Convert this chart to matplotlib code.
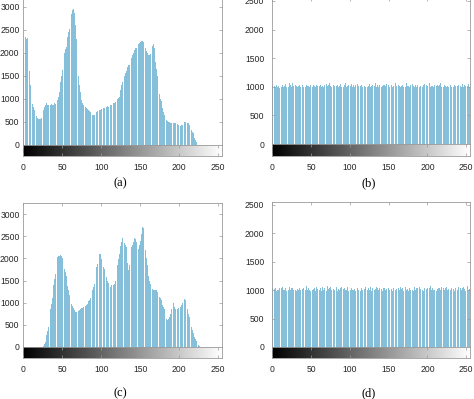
import numpy as np
import matplotlib
matplotlib.use('Agg')
import matplotlib.pyplot as plt

# histogram counts per gray level (0..255)
hist_a = [
    1950, 2400, 2380, 2350, 2300, 2330, 2150, 1900, 1600, 1300, 1100, 1000, 900, 820, 760, 700,
    650, 620, 590, 570, 560, 570, 560, 590, 620, 680, 760, 830, 870, 900, 920, 880,
    860, 880, 900, 870, 890, 860, 900, 880, 910, 900, 930, 960, 980, 1050, 1150, 1270,
    1380, 1500, 1620, 1750, 1880, 2000, 2080, 2140, 2250, 2350, 2450, 2520, 2600, 2700, 2850, 2940,
    2950, 2900, 2870, 2600, 2300, 2000, 1750, 1500, 1300, 1150, 1050, 980, 920, 880, 860, 840,
    835, 810, 790, 770, 750, 730, 710, 690, 670, 660, 650, 660, 680, 700, 720, 740,
    750, 760, 760, 770, 780, 790, 800, 810, 810, 820, 830, 830, 840, 820, 850, 840,
    860, 880, 900, 890, 910, 920, 940, 960, 980, 1000, 1020, 1050, 1100, 1200, 1300, 1360,
    1410, 1450, 1500, 1560, 1610, 1650, 1700, 1730, 1740, 1780, 1830, 1900, 1950, 2000, 2040, 2070,
    2100, 2110, 2150, 2180, 2200, 2220, 2230, 2250, 2260, 2250, 2240, 2270, 2200, 2100, 2050, 2000,
    1980, 1960, 1950, 1970, 1950, 2050, 2150, 2200, 2100, 1950, 1800, 1650, 1500, 1350, 1200, 1100,
    1000, 950, 880, 800, 720, 650, 600, 570, 545, 520, 510, 500, 490, 480, 480, 475,
    470, 470, 480, 470, 465, 460, 450, 440, 435, 430, 420, 430, 440, 450, 470, 490,
    500, 510, 490, 480, 470, 430, 400, 380, 330, 280, 250, 200, 160, 110, 60, 30,
    0, 0, 0, 0, 0, 0, 0, 0, 0, 0, 0, 0, 0, 0, 0, 0,
    0, 0, 0, 0, 0, 0, 0, 0, 0, 0, 0, 0, 0, 0, 0, 0,
]

hist_b = [
    1040, 1020, 1060, 1010, 990, 1030, 1050, 1000, 1020, 980, 1010, 1040, 1000, 1030, 990, 1020,
    1010, 1050, 1000, 1040, 1020, 990, 1060, 1030, 1010, 1000, 1070, 1020, 1040, 990, 1030, 1010,
    1000, 1080, 1020, 1030, 990, 1050, 1010, 1040, 1000, 1020, 1060, 990, 1030, 1010, 1040, 1020,
    1000, 1030, 1050, 1010, 990, 1040, 1020, 1060, 1000, 1030, 1010, 1050, 990, 1020, 1040, 1000,
    1030, 1010, 1000, 1040, 1020, 990, 1050, 1010, 1030, 1000, 1060, 1020, 990, 1040, 1010, 1030,
    1020, 1000, 1070, 1010, 1040, 990, 1030, 1020, 1050, 1000, 1010, 1040, 990, 1030, 1060, 1010,
    1000, 1020, 1040, 990, 1030, 1010, 1050, 1000, 1020, 1040, 990, 1030, 1010, 1000, 1050, 1020,
    1030, 990, 1010, 1040, 1000, 1020, 1060, 1010, 990, 1030, 1040, 1000, 1020, 1050, 1010, 990,
    1020, 1040, 1000, 1030, 1010, 1060, 990, 1020, 1040, 1000, 1030, 1050, 1010, 990, 1020, 1040,
    1000, 1030, 1010, 1050, 1020, 990, 1040, 1000, 1060, 1010, 1030, 990, 1020, 1040, 1000, 1070,
    1010, 1030, 1000, 1040, 1020, 990, 1050, 1010, 1030, 1000, 1040, 1020, 990, 1060, 1010, 1030,
    1020, 1000, 1040, 990, 1030, 1050, 1010, 1000, 1020, 1040, 990, 1030, 1060, 1010, 1000, 1020,
    1040, 1010, 990, 1030, 1050, 1000, 1020, 1040, 1010, 990, 1030, 1070, 1000, 1020, 1040, 1010,
    1000, 1030, 1050, 990, 1020, 1040, 1010, 1000, 1030, 1060, 990, 1020, 1040, 1000, 1030, 1010,
    1050, 1000, 1020, 990, 1040, 1010, 1030, 1000, 1060, 1020, 990, 1040, 1010, 1030, 1000, 1020,
    1040, 990, 1030, 1010, 1000, 1050, 1020, 990, 1040, 1010, 1030, 1000, 1020, 1050, 990, 1010,
]

hist_c = [
    0, 0, 0, 0, 0, 0, 0, 0, 0, 0, 0, 0, 0, 0, 0, 0,
    0, 0, 0, 0, 0, 0, 0, 0, 0, 0, 20, 60, 120, 180, 260, 350,
    450, 580, 720, 860, 980, 1100, 1250, 1400, 1530, 1650, 1800, 1950, 2030, 2050, 2060, 2040,
    2070, 2060, 2000, 1950, 1850, 1760, 1700, 1600, 1500, 1380, 1280, 1180, 1080, 1000, 960, 920,
    880, 860, 830, 800, 780, 800, 820, 810, 840, 860, 870, 880, 890, 900, 920, 910,
    930, 950, 970, 1000, 1030, 1060, 1100, 1150, 1200, 1280, 1350, 1430, 1550, 1680, 1800, 1880,
    1950, 2000, 2100, 2110, 1980, 1900, 1850, 1810, 1750, 1700, 1650, 1580, 1500, 1450, 1400, 1380,
    1350, 1390, 1370, 1380, 1390, 1420, 1500, 1600, 1730, 1850, 1980, 2100, 2180, 2280, 2380, 2450,
    2490, 2420, 2350, 2300, 2260, 2100, 1900, 1730, 1850, 2000, 2150, 2250, 2300, 2380, 2420, 2450,
    2430, 2380, 2300, 2250, 2220, 2300, 2400, 2480, 2550, 2710, 2680, 2600, 2400, 2180, 2000, 1850,
    1730, 1600, 1500, 1420, 1380, 1360, 1300, 1290, 1280, 1270, 1290, 1280, 1250, 1220, 1180, 1130,
    1100, 1050, 1000, 950, 905, 850, 780, 700, 640, 620, 640, 660, 680, 750, 850, 950,
    1055, 1000, 900, 850, 830, 830, 850, 870, 880, 905, 900, 950, 1000, 1055, 1080, 1090,
    1050, 1000, 920, 850, 755, 680, 600, 520, 450, 380, 320, 260, 225, 180, 140, 100,
    75, 40, 20, 0, 0, 0, 0, 0, 0, 0, 0, 0, 0, 0, 0, 0,
    0, 0, 0, 0, 0, 0, 0, 0, 0, 0, 0, 0, 0, 0, 0, 0,
]

hist_d = [
    1030, 1050, 1000, 1020, 1040, 990, 1030, 1010, 1000, 1040, 1020, 990, 1030, 1050, 1000, 1020,
    1010, 1040, 990, 1030, 1020, 1000, 1050, 1010, 990, 1030, 1040, 1000, 1020, 1060, 1010, 990,
    1020, 1040, 1000, 1030, 1010, 1050, 990, 1020, 1040, 1000, 1030, 1010, 1070, 1000, 1020, 1040,
    1010, 990, 1030, 1050, 1000, 1020, 1040, 1010, 990, 1060, 1020, 1000, 1040, 1010, 1030, 990,
    1020, 1050, 1000, 1030, 1010, 1040, 990, 1080, 1020, 1000, 1030, 1050, 1010, 990, 1040, 1020,
    1000, 1030, 1010, 1050, 990, 1020, 1040, 1000, 1030, 1060, 1010, 990, 1020, 1040, 1000, 1030,
    1010, 1050, 990, 1020, 1040, 1000, 1030, 1010, 1070, 1000, 1020, 990, 1040, 1010, 1030, 1000,
    1050, 1020, 990, 1040, 1010, 1030, 1000, 1020, 1060, 990, 1030, 1010, 1040, 1000, 1020, 1050,
    990, 1030, 1010, 1040, 1000, 1020, 1050, 990, 1030, 1010, 1040, 1000, 1060, 1020, 990, 1030,
    1010, 1040, 1000, 1020, 1050, 990, 1030, 1010, 1000, 1040, 1020, 990, 1030, 1050, 1010, 1000,
    1020, 1040, 990, 1030, 1010, 1060, 1000, 1020, 1040, 990, 1030, 1010, 1050, 1000, 1020, 1040,
    990, 1030, 1000, 1020, 1040, 1010, 990, 1050, 1020, 1000, 1040, 1030, 990, 1010, 1060, 1020,
    1000, 1040, 1010, 990, 1030, 1050, 1000, 1020, 1040, 1010, 990, 1030, 1070, 1000, 1020, 1040,
    1010, 1000, 1030, 1050, 990, 1020, 1040, 1000, 1030, 1010, 1060, 990, 1020, 1040, 1000, 1030,
    1010, 1050, 1000, 1020, 990, 1040, 1010, 1030, 1080, 1000, 1020, 990, 1040, 1010, 1030, 1000,
    1050, 1020, 990, 1040, 1010, 1030, 1000, 1060, 1020, 990, 1040, 1010, 1070, 1000, 1020, 1040,
]

labels = ['(a)', '(b)', '(c)', '(d)']
x_ticks = [0, 50, 100, 150, 200, 250]
ymax_ac = 3250
ymax_bd = 2550
yticks_ac = [0, 500, 1000, 1500, 2000, 2500, 3000]
yticks_bd = [0, 500, 1000, 1500, 2000, 2500]

W, H = 474, 399
BAR_COLOR = '#86bfd9'
FRAME = '#9a9a9a'
TXT = '#262626'
TICK_FONT = ['Liberation Sans', 'DejaVu Sans']

fig = plt.figure(figsize=(W / 100, H / 100), dpi=100)
fig.patch.set_facecolor('white')


def px_axes(left, top, width, height):
    # axes from pixel box (top-left origin)
    return fig.add_axes([left / W, 1 - (top + height) / H, width / W, height / H])


def panel(counts, ymax, yticks, left, width, y0, px_per_count, cb_h, ypad, lab_x, lab_y, label):
    top = y0 - ymax * px_per_count
    ax = px_axes(left, top, width, y0 - top)
    bins = np.arange(256)
    ax.bar(bins, counts, width=0.82, color=BAR_COLOR, linewidth=0, align='center')
    ax.set_xlim(-0.5, 255)
    ax.set_ylim(0, ymax)
    ax.set_yticks(yticks)
    ax.set_yticklabels([str(t) for t in yticks])
    ax.set_xticks(x_ticks)
    ax.tick_params(axis='x', which='both', direction='in', length=2.5, width=0.5,
                   color=FRAME, top=True, bottom=False, labelbottom=False)
    ax.tick_params(axis='y', which='both', direction='in', length=2.5, width=0.5,
                   color=FRAME, right=True, labelsize=6.2, labelcolor=TXT, pad=ypad)
    for lab in ax.get_yticklabels():
        lab.set_fontfamily(TICK_FONT)
    for s in ax.spines.values():
        s.set_color(FRAME)
        s.set_linewidth(0.6)

    # gray level bar under the histogram
    cb = px_axes(left, y0, width, cb_h)
    grad = np.linspace(0, 1, 256).reshape(1, -1)
    cb.imshow(grad, cmap='gray', aspect='auto', extent=[-0.5, 255, 0, 1])
    cb.set_xlim(-0.5, 255)
    cb.set_yticks([])
    cb.set_xticks(x_ticks)
    cb.set_xticklabels([str(t) for t in x_ticks])
    cb.tick_params(axis='x', direction='in', length=2.5, width=0.5, color=FRAME,
                   top=True, labelsize=6.2, labelcolor=TXT, pad=5)
    for lab in cb.get_xticklabels():
        lab.set_fontfamily(TICK_FONT)
    for s in cb.spines.values():
        s.set_color(FRAME)
        s.set_linewidth(0.6)

    fig.text(lab_x / W, 1 - lab_y / H, label, ha='center', va='center',
             fontsize=9, family=['Liberation Serif', 'DejaVu Serif'], color='black')


panel(hist_a, ymax_ac, yticks_ac, 23, 199, 145, 0.046, 11, 2.5, 120, 183, labels[0])
panel(hist_b, ymax_bd, yticks_bd, 272, 198, 144, 0.0572, 12, 5.5, 369, 183, labels[1])
panel(hist_c, ymax_ac, yticks_ac, 23, 199, 347, 0.0443, 11, 2.5, 120, 393, labels[2])
panel(hist_d, ymax_bd, yticks_bd, 272, 198, 347, 0.0568, 11, 5.5, 369, 393, labels[3])

fig.savefig('out.png', dpi=100)
